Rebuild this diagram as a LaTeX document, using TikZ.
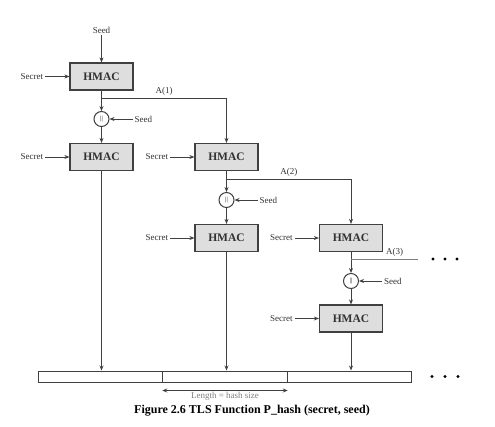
\documentclass[tikz,border=0pt]{standalone}
\usepackage{fontspec}
\setmainfont{Liberation Serif}
\usetikzlibrary{arrows.meta,positioning}
\definecolor{boxgray}{RGB}{222,222,222}
\definecolor{lngray}{RGB}{64,64,64}
\definecolor{txgray}{RGB}{50,50,50}
\tikzstyle{hmac} = [draw=lngray, line width=1.2pt, fill=boxgray, minimum width=63pt, minimum height=27pt, inner sep=0pt, font=\fontsize{11.5}{12}\selectfont\bfseries, text=txgray]
\tikzstyle{concat} = [draw=lngray, line width=1pt, circle, minimum size=15pt, inner sep=0pt, font=\fontsize{6}{6}\selectfont]
\tikzstyle{lbl} = [font=\fontsize{9}{10}\selectfont, text=txgray, inner sep=2pt]
\tikzstyle{cell} = [draw=lngray, line width=1pt, minimum width=124.5pt, minimum height=11pt, inner sep=0pt]
\tikzstyle{arrow} = [line width=0.9pt, draw=lngray, -{Stealth[length=5pt,width=4pt]}]
\tikzstyle{line} = [line width=0.9pt, draw=lngray]

\begin{document}
\begin{tikzpicture}[x=1pt,y=-1pt]
\useasboundingbox (0,0) rectangle (495,426);

% HMAC boxes
\node[hmac] (h1) at (101.5,76.5) {HMAC};
\node[hmac] (h2) at (101.5,157) {HMAC};
\node[hmac] (h3) at (226.5,157) {HMAC};
\node[hmac] (h4) at (226.5,238) {HMAC};
\node[hmac] (h5) at (351,238) {HMAC};
\node[hmac] (h6) at (351,318.5) {HMAC};

% Concatenation circles
\node[concat] (c1) at (101.5,119) {$\|$};
\node[concat] (c2) at (226.5,200) {$\|$};
\node[concat] (c3) at (351,281) {$\|$};

% Secret and seed inputs
\node[lbl, above=27pt of h1] (seed0) {Seed};
\draw[arrow] (seed0) -- (h1);
\foreach \b in {1,...,6} {
    \node[lbl, left=24pt of h\b] (s\b) {Secret};
    \draw[arrow] (s\b) -- (h\b);
}
\foreach \c in {1,2,3} {
    \node[lbl, right=23pt of c\c] (sd\c) {Seed};
    \draw[arrow] (sd\c) -- (c\c);
}

% Chaining A(i)
\coordinate (a1) at (101.5,98);
\coordinate (a2) at (226.5,179);
\coordinate (a3) at (351,259);
\coordinate (a3end) at (418,259);
\draw[arrow] (h1) -- (c1);
\draw[arrow] (c1) -- (h2);
\draw[arrow] (a1) -| node[pos=0.25, above, lbl] {A(1)} (h3);
\draw[arrow] (h3) -- (c2);
\draw[arrow] (c2) -- (h4);
\draw[arrow] (a2) -| node[pos=0.25, above, lbl] {A(2)} (h5);
\draw[arrow] (h5) -- (c3);
\draw[arrow] (c3) -- (h6);
\draw[line, draw=gray, line width=0.7pt] (a3) -- node[pos=0.65, above, lbl] {A(3)} (a3end);
\foreach \x in {433,445,457} {
    \fill[black] (\x,259) circle (1.6pt);
}

% Output bar
\node[cell] (b1) at (100.5,376.5) {};
\node[cell] (b2) at (225,376.5) {};
\node[cell] (b3) at (349.5,376.5) {};
\draw[arrow] (h2) -- (h2 |- b1.north);
\draw[arrow] (h4) -- (h4 |- b2.north);
\draw[arrow] (h6) -- (h6 |- b3.north);
\foreach \x in {432,445,458} {
    \fill[black] (\x,376.5) circle (1.6pt);
}
\draw[line, {Stealth[length=5pt,width=4pt]}-{Stealth[length=5pt,width=4pt]}] ([yshift=-8pt]b2.south west) -- node[below, lbl, text=gray, inner sep=1pt] {Length = hash size} ([yshift=-8pt]b2.south east);

% Caption
\node[font=\fontsize{12}{14}\selectfont\bfseries] (cap) at (252,410.5) {Figure 2.6 TLS Function P\_hash (secret, seed)};
\end{tikzpicture}
\end{document}
